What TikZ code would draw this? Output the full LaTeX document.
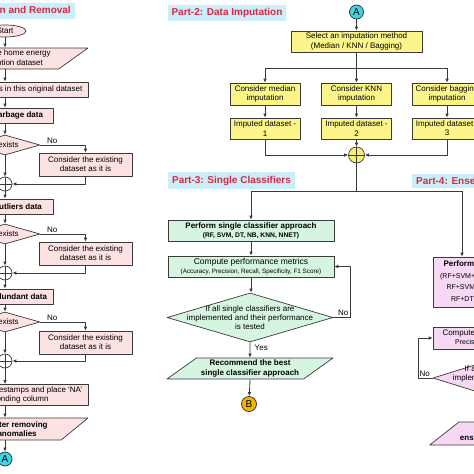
\documentclass[tikz,border=0pt]{standalone}
\usepackage{fontspec}
\setmainfont{Liberation Sans}
\usetikzlibrary{arrows.meta,shapes.geometric,calc}

\definecolor{tratto}{HTML}{3A3A3A}
\definecolor{rosac}{HTML}{FCE2E2}
\definecolor{gialloc}{HTML}{FBF58A}
\definecolor{verdec}{HTML}{D6F5E0}
\definecolor{lillac}{HTML}{F6D8F4}
\definecolor{cianoc}{HTML}{CBEEF9}
\definecolor{rossoc}{HTML}{D42A46}
\definecolor{turchese}{HTML}{3FD4E4}
\definecolor{arancio}{HTML}{F4B400}
\definecolor{giallom}{HTML}{F6EE72}

\newcommand{\piccolo}{\fontsize{7}{8}\selectfont}

\begin{document}
\begin{tikzpicture}[x=1pt,y=-1pt,line join=round,
    font=\fontsize{8}{9.2}\selectfont,
    grass/.style={font=\fontsize{8}{9.2}\selectfont\bfseries},
    box/.style={draw=tratto,line width=0.7pt,inner sep=1pt,align=center},
    rosa/.style={box,fill=rosac},
    giallo/.style={box,fill=gialloc,minimum width=70pt,minimum height=22pt},
    verde/.style={box,fill=verdec,minimum width=166pt,minimum height=21pt},
    lilla/.style={box,fill=lillac,minimum width=166pt},
    io/.style={box,trapezium,trapezium left angle=32.5,trapezium right angle=147.5,
               trapezium stretches body},
    inizio/.style={box,ellipse,fill=rosac,minimum width=42pt,minimum height=12pt,inner sep=0pt},
    scelta/.style={box,diamond,fill=rosac,aspect=3.5,inner sep=0pt,
                   minimum width=70pt,minimum height=20pt},
    rombo/.style={box,diamond,inner sep=0pt,minimum width=166pt,minimum height=49pt},
    testo/.style={align=center,inner sep=0pt},
    unione/.style={draw=tratto,line width=0.7pt,circle,fill=white,minimum size=14pt,inner sep=0pt,
                   path picture={\draw[tratto,line width=0.6pt]
                     (path picture bounding box.north) -- (path picture bounding box.south)
                     (path picture bounding box.west) -- (path picture bounding box.east);}},
    conn/.style={draw=tratto,line width=0.8pt,circle,minimum size=14pt,inner sep=0pt,
                 font=\fontsize{10}{12}\selectfont},
    titolo/.style={fill=cianoc,text=rossoc,font=\fontsize{10}{12}\selectfont\bfseries,
                   inner xsep=4pt,minimum height=16pt},
    etic/.style={inner sep=1.5pt},
    linea/.style={draw=tratto,line width=0.8pt},
    freccia/.style={linea,-{Latex[length=4pt,width=3.6pt]}}]

  \useasboundingbox (0,0) rectangle (474,474);
  \clip (0,0) rectangle (474,474);

  % ============ Part-1: anomalie ============
  \node[titolo,anchor=east] (t1) at (75,11) {Part-1: Anomaly Detection and Removal};
  \node[inizio] (start) at (5,31) {Start};
  \node[io,fill=rosac,minimum width=164pt,minimum height=21pt] (load) at (6,58.5)
       {Acquire the home energy\\consumption dataset};
  \node[rosa,minimum width=166pt,minimum height=15pt] (detect) at (5,89.5)
       {Detect the anomalies in this original dataset};
  \node[rosa,grass,minimum width=96pt,minimum height=15pt] (garb) at (5,115.5) {Check garbage data};
  \node[scelta] (q1) at (5,145) {If exists};
  \node[rosa,minimum width=93pt,minimum height=23pt] (nb1) at (85.5,164.5) {Consider the existing\\dataset as it is};
  \node[unione] (m1) at (5,184) {};
  \node[rosa,grass,minimum width=96pt,minimum height=15pt] (outl) at (5,206.5) {Check outliers data};
  \node[scelta] (q2) at (5,234) {If exists};
  \node[rosa,minimum width=93pt,minimum height=23pt] (nb2) at (85.5,253.5) {Consider the existing\\dataset as it is};
  \node[unione] (m2) at (5,273) {};
  \node[rosa,grass,minimum width=96pt,minimum height=15pt] (redun) at (5,296.5) {Check redundant data};
  \node[scelta] (q3) at (5,322) {If exists};
  \node[rosa,minimum width=93pt,minimum height=23pt] (nb3) at (85.5,342.5) {Consider the existing\\dataset as it is};
  \node[unione] (m3) at (5,361) {};
  \node[rosa,minimum width=166pt,minimum height=21pt] (miss) at (5,395)
       {Find the missing timestamps and place ‘NA’\\in corresponding column};
  \node[io,fill=rosac,grass,minimum width=156pt,minimum height=22pt] (clean) at (10,429)
       {Data after removing\\the anomalies};
  \node[conn,fill=turchese] (A1) at (5,459) {A};

  \node[etic,anchor=south west] (no1) at ([xshift=5pt]q1.east) {No};
  \node[etic,anchor=south west] (no2) at ([xshift=5pt]q2.east) {No};
  \node[etic,anchor=south west] (no3) at ([xshift=5pt]q3.east) {No};

  \draw[freccia] (start) -- (start |- load.north);
  \draw[freccia] (detect |- load.south) -- (detect.north);
  \draw[freccia] (detect) -- (garb);
  \draw[freccia] (garb) -- (q1);
  \draw[freccia] (q1.south) -- (m1.north);
  \draw[freccia] (q1.east) -| (nb1.north);
  \draw[freccia] (nb1.south) |- (m1.east);
  \draw[freccia] (m1) -- (outl);
  \draw[freccia] (outl) -- (q2);
  \draw[freccia] (q2.south) -- (m2.north);
  \draw[freccia] (q2.east) -| (nb2.north);
  \draw[freccia] (nb2.south) |- (m2.east);
  \draw[freccia] (m2) -- (redun);
  \draw[freccia] (redun) -- (q3);
  \draw[freccia] (q3.south) -- (m3.north);
  \draw[freccia] (q3.east) -| (nb3.north);
  \draw[freccia] (nb3.south) |- (m3.east);
  \draw[freccia] (m3) -- (miss);
  \draw[freccia] (miss.south) -- (miss.south |- clean.north);
  \draw[freccia] (A1 |- clean.south) -- (A1);

  % ============ Part-2: imputazione ============
  \node[titolo] (t2) at (227,12.5) {Part-2: Data Imputation};
  \node[conn,fill=turchese] (A2) at (356.5,12) {A};
  \node[giallo,minimum width=131pt,minimum height=21pt] (sel) at (356.5,41.5)
       {Select an imputation method\\(Median / KNN / Bagging)};
  \node[giallo] (med) at (265,94) {Consider median\\imputation};
  \node[giallo] (knn) at (356.5,94) {Consider KNN\\imputation};
  \node[giallo] (bag) at (447,94) {Consider bagging\\imputation};
  \node[giallo,minimum height=21pt] (d1) at (265,128.5) {Imputed dataset -\\1};
  \node[giallo,minimum height=21pt] (d2) at (356.5,128.5) {Imputed dataset -\\2};
  \node[giallo,minimum height=21pt] (d3) at (447,128.5) {Imputed dataset -\\3};
  \node[unione,fill=giallom,minimum size=16pt] (m4) at (356.5,155) {};
  \coordinate (split) at (356.5,68);
  \coordinate (split2) at (356.5,191);
  \coordinate (ramo4) at (462,191);

  \draw[freccia] (A2) -- (sel);
  \draw[linea] (sel) -- (split);
  \draw[linea] (split -| med) -- (split -| bag);
  \draw[freccia] (split -| med) -- (med);
  \draw[freccia] (split) -- (knn);
  \draw[freccia] (split -| bag) -- (bag);
  \draw[freccia] (med) -- (d1);
  \draw[freccia] (knn) -- (d2);
  \draw[freccia] (bag) -- (d3);
  \draw[freccia] (d1) |- (m4);
  \draw[freccia] (d3) |- (m4);
  \draw[freccia] (d2) -- (m4);
  \draw[linea] (m4) -- (split2);

  % ============ Part-3: classificatori singoli ============
  \node[titolo,minimum height=15pt] (t3) at (231.5,180.5) {Part-3: Single Classifiers};
  \node[verde] (sc1) at (251,230.5)
       {\textbf{Perform single classifier approach}\\\fontsize{6.7}{8}\selectfont\bfseries (RF, SVM, DT, NB, KNN, NNET)};
  \node[verde] (sc2) at (251,266.5)
       {\fontsize{8.5}{9}\selectfont Compute performance metrics\\\fontsize{6.3}{7.5}\selectfont (Accuracy, Precision, Recall, Specificity, F1 Score)};
  \node[rombo,fill=verdec] (q4) at (250,317.5) {};
  \node[testo] (q4t) at (q4) {If all single classifiers are\\implemented and their performance\\is tested};
  \node[io,fill=verdec,grass,minimum width=166pt,minimum height=21pt] (rec) at (250,368.5)
       {Recommend the best\\single classifier approach};
  \node[conn,fill=arancio,minimum size=15pt] (B) at (249,404) {B};
  \coordinate (giro3) at (350,317.5);
  \node[etic,anchor=south east] (no4) at (giro3) {No};
  \node[etic,anchor=west] (yes4) at (253,348) {Yes};

  \draw[linea] (split2 -| sc1) -- (ramo4);
  \draw[freccia] (split2 -| sc1) -- (sc1);
  \draw[freccia] (sc1) -- (sc2);
  \draw[freccia] (sc2.south) -- (sc2.south |- q4.north);
  \draw[linea] (q4.east) -- (giro3);
  \draw[freccia] (giro3) |- (sc2.east);
  \draw[freccia] (q4.south) -- (rec.north);
  \draw[freccia] (rec.south) -- (B);

  % ============ Part-4: classificatori ensemble ============
  \node[titolo,anchor=west,minimum height=14pt] (t4) at (412,181) {Part-4: Ensemble Classifiers};
  \node[lilla,minimum height=50pt] (en1) at (516,282)
       {\textbf{Perform ensemble classifier approach}\\[2pt]
        \piccolo (RF+SVM+NNET, RF+SVM+KNN, RF+SVM+DT,\\[2.5pt]
        \piccolo RF+SVM+NB, RF+DT+NNET, RF+DT+KNN,\\[2.5pt]
        \piccolo RF+DT+NB+NNET, RF+DT+KNN+NNET)};
  \node[lilla,minimum height=22pt] (en2) at (516,338)
       {Compute performance metrics (Accuracy,\\\piccolo Precision, Recall, Specificity, F1 Score)};
  \node[rombo,fill=lillac,minimum height=52pt] (q5) at (516,378) {};
  \node[testo] (q5t) at (q5) {If all ensemble classifiers are\\implemented and their performance\\is tested};
  \node[io,fill=lillac,grass,minimum width=166pt,minimum height=23pt] (rec2) at (516,433.5)
       {Recommend the best\\ensemble classifier approach};
  \coordinate (giro4) at (418,378);
  \node[etic,anchor=south west] (no5) at (giro4) {No};

  \draw[freccia] (ramo4) -- (ramo4 |- en1.north);
  \draw[freccia] (en1) -- (en2);
  \draw[freccia] (en2) -- (q5);
  \draw[linea] (q5.west) -- (giro4);
  \draw[freccia] (giro4) |- (en2.west);
  \draw[freccia] (q5.south) -- (rec2.north);

\end{tikzpicture}
\end{document}
